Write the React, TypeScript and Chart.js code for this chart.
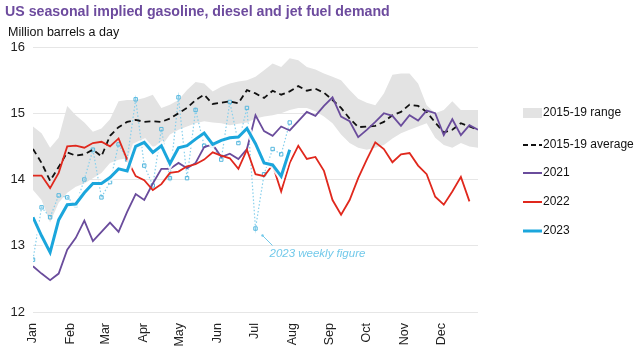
import React, { useEffect, useRef } from "react";
import { Chart, registerables } from "chart.js";

Chart.register(...registerables);

// ---------- data ----------
const MONTH_LABELS = ["Jan", "Feb", "Mar", "Apr", "May", "Jun", "Jul", "Aug", "Sep", "Oct", "Nov", "Dec"];
// month starts expressed in weeks of the year
const MONTH_WEEKS = [0, 4.43, 8.43, 12.86, 17.14, 21.57, 25.86, 30.29, 34.71, 39, 43.43, 47.71];

const Y_TICKS = [12, 13, 14, 15, 16];

const RANGE_UPPER = [
  14.8, 14.7, 14.48, 14.63, 15.11, 14.97, 14.86, 14.72, 14.77, 14.91,
  15.18, 15.2, 15.2, 15.23, 15.28, 15.08, 15.13, 15.2, 15.35, 15.47,
  15.45, 15.33, 15.4, 15.45, 15.48, 15.5, 15.55, 15.65, 15.75, 15.7,
  15.83, 15.8, 15.7, 15.66, 15.6, 15.55, 15.5, 15.35, 15.22, 15.16,
  15.12, 15.3, 15.58, 15.6, 15.6, 15.45, 15.12, 15.0, 15.05, 15.18,
  15.05, 15.05, 15.05,
];
const RANGE_LOWER = [
  13.84, 13.69, 13.35, 13.65, 13.8, 13.89, 13.94, 14.02, 14.1, 14.25,
  14.3, 14.32, 14.45, 14.5, 14.5, 14.5, 14.68, 14.75, 14.8, 14.85,
  14.88, 14.86, 14.85, 14.82, 14.84, 14.86, 14.92, 14.95, 14.97, 15.0,
  15.05, 15.08, 15.08, 15.03, 14.95, 14.85, 14.68, 14.55, 14.48, 14.45,
  14.48, 14.52, 14.62, 14.7, 14.75, 14.8, 14.85, 14.63, 14.52, 14.48,
  14.55, 14.5, 14.48,
];
const AVG_2015_19 = [
  14.46, 14.25, 13.98, 14.19, 14.41, 14.36, 14.38, 14.45, 14.35, 14.66,
  14.79, 14.87, 14.9, 14.87, 14.88, 14.87, 14.92, 15.0, 15.08, 15.2,
  15.28, 15.14, 15.16, 15.18, 15.15, 15.35, 15.3, 15.23, 15.34, 15.28,
  15.33, 15.41, 15.34, 15.37, 15.31, 15.2, 15.08, 14.92, 14.79, 14.8,
  14.81, 14.87, 14.97, 15.02, 15.13, 15.11, 15.02, 14.86, 14.71, 14.75,
  14.85, 14.8, 14.75,
];
const Y2021 = [
  12.69, 12.58, 12.48, 12.58, 12.94, 13.12, 13.38, 13.07, 13.21, 13.35,
  13.21, 13.51, 13.78, 13.69, 13.94, 14.16, 14.16, 14.25, 14.17, 14.25,
  14.49, 14.53, 14.34, 14.39, 14.31, 14.46, 14.97, 14.73, 14.66, 14.8,
  14.74, 14.88, 15.02, 14.96, 15.11, 15.24, 14.95, 14.88, 14.64, 14.75,
  14.87, 15.0, 14.96, 14.81, 14.97, 14.89, 15.04, 15.0, 14.67, 14.91,
  14.67, 14.82, 14.75,
];
const Y2022 = [
  14.06, 14.06, 13.87, 14.1, 14.5, 14.51, 14.48, 14.55, 14.57, 14.5,
  14.62, 14.3, 14.05, 13.99, 13.84, 13.93, 14.1, 14.12, 14.2, 14.23,
  14.3, 14.41, 14.36, 14.32, 14.16, 14.45, 14.08, 14.05, 14.22, 13.82,
  14.25, 14.51, 14.31, 14.34, 14.13, 13.69, 13.47, 13.69, 14.02, 14.3,
  14.56, 14.46, 14.26, 14.38, 14.4, 14.21, 14.08, 13.74, 13.62, 13.82,
  14.04, 13.67,
];
const Y2023 = [
  13.43, 13.15, 12.9, 13.39, 13.62, 13.63, 13.8, 13.94, 13.94, 14.03,
  14.16, 14.13, 14.5, 14.56, 14.41, 14.51, 14.24, 14.48, 14.51, 14.61,
  14.7, 14.53, 14.59, 14.63, 14.64, 14.77, 14.54, 14.25, 14.22, 14.05,
  14.45,
];
const Y2023_WEEKLY = [
  12.79, 13.58, 13.43, 13.76, 13.73, 13.61, 14.0, 14.45, 13.73, 13.96,
  14.53, 14.3, 15.21, 14.21, 13.91, 14.76, 14.02, 15.24, 14.02, 15.05,
  14.51, 14.51, 14.3, 15.17, 14.55, 15.08, 13.26, 14.08, 14.46, 14.38,
  14.86,
];

const TITLE = "US seasonal implied gasoline, diesel and jet fuel demand";
const Y_TITLE = "Million barrels a day";
const ANNOTATION = "2023 weekly figure";
const ANNOT_WEEK = 26; // weekly point the note refers to

// ---------- styles ----------
const FONT = '"Liberation Sans", Arial, Helvetica, sans-serif';
const C_TITLE = "#6d4b9e";
const C_BAND = "#e3e3e3";
const C_AVG = "#111111";
const C_2021 = "#6a4c9c";
const C_2022 = "#e0281d";
const C_2023 = "#1ba6dc";
const C_WEEKLY = "#86cfec";
const C_WEEKLY_PT = "#55b7de";
const C_NOTE = "#72c9ea";

const LEGEND = [
  { label: "2015-19 range", kind: "box", color: C_BAND, dy: 113 },
  { label: "2015-19 average", kind: "dash", color: C_AVG, dy: 145 },
  { label: "2021", kind: "line", color: C_2021, dy: 173 },
  { label: "2022", kind: "line", color: C_2022, dy: 202 },
  { label: "2023", kind: "thick", color: C_2023, dy: 231 },
];

const toXY = (arr: number[]) => arr.map((v, i) => ({ x: i, y: v }));

const overlayPlugin = {
  id: "overlay",
  afterDraw(chart: any) {
    const { ctx, scales } = chart;
    const xs = scales.x;
    const ys = scales.y;
    ctx.save();
    ctx.textBaseline = "middle";
    ctx.textAlign = "left";
    // title
    ctx.font = `bold 14.2px ${FONT}`;
    ctx.fillStyle = C_TITLE;
    ctx.fillText(TITLE, 5, 12);
    // unit
    ctx.font = `12.5px ${FONT}`;
    ctx.fillStyle = "#111";
    ctx.fillText(Y_TITLE, 8, 33);

    // legend
    const lx = chart.chartArea.right + 45;
    ctx.font = `12px ${FONT}`;
    for (const it of LEGEND) {
      const y = it.dy;
      if (it.kind === "box") {
        ctx.fillStyle = it.color;
        ctx.fillRect(lx, y - 5, 19, 10);
      } else if (it.kind === "dash") {
        ctx.strokeStyle = it.color;
        ctx.lineWidth = 2;
        ctx.setLineDash([5, 3]);
        ctx.beginPath();
        ctx.moveTo(lx, y);
        ctx.lineTo(lx + 19, y);
        ctx.stroke();
        ctx.setLineDash([]);
      } else {
        ctx.strokeStyle = it.color;
        ctx.lineWidth = it.kind === "thick" ? 3 : 2;
        ctx.beginPath();
        ctx.moveTo(lx, y);
        ctx.lineTo(lx + 19, y);
        ctx.stroke();
      }
      ctx.fillStyle = "#111";
      ctx.fillText(it.label, lx + 20, y);
    }

    // annotation
    const px = xs.getPixelForValue(ANNOT_WEEK);
    const py = ys.getPixelForValue(Y2023_WEEKLY[ANNOT_WEEK]);
    ctx.strokeStyle = C_NOTE;
    ctx.lineWidth = 1;
    ctx.beginPath();
    ctx.moveTo(px + 7, py + 7);
    ctx.lineTo(px + 17, py + 17);
    ctx.stroke();
    ctx.fillStyle = C_NOTE;
    ctx.beginPath();
    ctx.arc(px + 7, py + 7, 1.2, 0, Math.PI * 2);
    ctx.fill();
    ctx.font = `italic 11.5px ${FONT}`;
    ctx.fillText(ANNOTATION, px + 14, py + 25);
    ctx.restore();
  },
};

export default function App() {
  const ref = useRef<HTMLCanvasElement | null>(null);

  useEffect(() => {
    if (!ref.current) return;
    Chart.defaults.font.family = FONT;
    const chart = new Chart(ref.current, {
      type: "line",
      data: {
        datasets: [
          {
            label: "2015-19 range",
            data: toXY(RANGE_UPPER),
            borderWidth: 0,
            pointRadius: 0,
            backgroundColor: C_BAND,
            borderColor: "rgba(0,0,0,0)",
            fill: 1,
            order: 20,
          },
          {
            label: "range lower",
            data: toXY(RANGE_LOWER),
            borderWidth: 0,
            pointRadius: 0,
            borderColor: "rgba(0,0,0,0)",
            fill: false,
            order: 21,
          },
          {
            label: "2023 weekly",
            data: toXY(Y2023_WEEKLY),
            borderColor: C_WEEKLY,
            borderWidth: 1.2,
            borderDash: [1.5, 2],
            pointStyle: "rect",
            pointRadius: 2.4,
            pointBorderWidth: 1,
            pointBorderColor: C_WEEKLY_PT,
            pointBackgroundColor: "rgba(255,255,255,0)",
            fill: false,
            order: 10,
          },
          {
            label: "2015-19 average",
            data: toXY(AVG_2015_19),
            borderColor: C_AVG,
            borderWidth: 1.8,
            borderDash: [6, 4],
            pointRadius: 0,
            fill: false,
            order: 8,
          },
          {
            label: "2021",
            data: toXY(Y2021),
            borderColor: C_2021,
            borderWidth: 1.8,
            pointRadius: 0,
            fill: false,
            order: 6,
          },
          {
            label: "2022",
            data: toXY(Y2022),
            borderColor: C_2022,
            borderWidth: 1.8,
            pointRadius: 0,
            fill: false,
            order: 5,
          },
          {
            label: "2023 halo",
            data: toXY(Y2023),
            borderColor: "rgba(255,255,255,0.85)",
            borderWidth: 7,
            pointRadius: 0,
            fill: false,
            order: 3,
          },
          {
            label: "2023",
            data: toXY(Y2023),
            borderColor: C_2023,
            borderWidth: 3,
            pointRadius: 0,
            fill: false,
            order: 1,
          },
        ],
      },
      options: {
        responsive: true,
        maintainAspectRatio: false,
        animation: false,
        layout: { padding: { top: 47, right: 162, left: 0, bottom: 0 } },
        elements: { line: { tension: 0 } },
        plugins: {
          legend: { display: false },
          tooltip: { enabled: false },
          title: { display: false },
        },
        scales: {
          x: {
            type: "linear",
            min: 0,
            max: 52,
            grid: { display: false },
            border: { display: false },
            ticks: {
              autoSkip: false,
              minRotation: 90,
              maxRotation: 90,
              padding: 3,
              color: "#222",
              font: { size: 12.5 },
              callback: (_v: any, i: number) => MONTH_LABELS[i],
            },
            afterBuildTicks: (s: any) => {
              s.ticks = MONTH_WEEKS.map((v) => ({ value: v }));
            },
            afterFit: (s: any) => {
              s.height = 48;
            },
          },
          y: {
            type: "linear",
            min: 12,
            max: 16,
            grid: { color: "#e6e6e6", drawTicks: false, lineWidth: 1 },
            border: { display: false },
            ticks: {
              padding: 8,
              color: "#222",
              font: { size: 13 },
            },
            afterBuildTicks: (s: any) => {
              s.ticks = Y_TICKS.map((v) => ({ value: v }));
            },
            afterFit: (s: any) => {
              s.width = 33;
            },
          },
        },
      },
      plugins: [overlayPlugin],
    });
    return () => chart.destroy();
  }, []);

  return (
    <div style={{ position: "fixed", left: 0, top: 0, width: 640, height: 360, background: "#fff" }}>
      <canvas ref={ref} />
    </div>
  );
}
